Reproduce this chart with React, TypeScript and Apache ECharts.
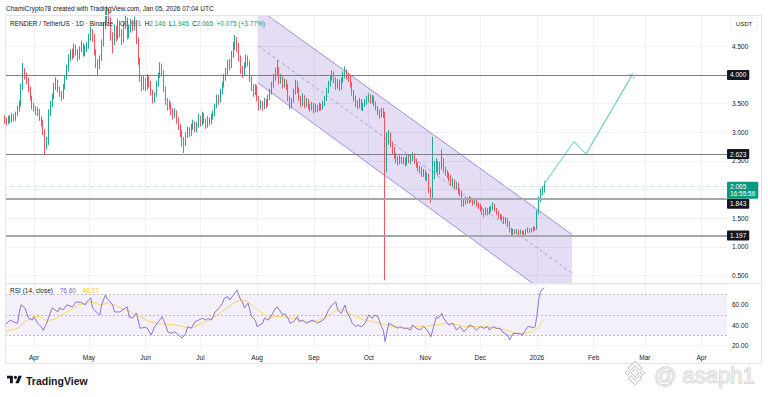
import React, { useEffect, useRef } from "react";
import * as echarts from "echarts";

const DAY = 86400000;
const START = Date.UTC(2025, 2, 16); // first candle: Mar 16, 2025
const X_MIN = Date.UTC(2025, 3, 1) - 15.86 * DAY;
const X_MAX = Date.UTC(2025, 3, 1) + 378.9 * DAY;
const dayToTime = (d: number) => START + d * DAY;

const firstOpen = 3.26;
const closes = [
  3.22,3.18,3.25,3.20,3.28,3.24,3.32,3.40,3.48,3.78,
  4.05,4.00,3.90,3.76,3.60,3.47,3.42,3.35,3.38,3.25,
  3.18,3.02,2.78,2.82,3.35,3.48,3.62,3.80,3.88,3.75,
  3.68,3.60,3.78,3.95,4.10,4.30,4.38,4.34,4.48,4.40,
  4.30,4.45,4.52,4.38,4.46,4.50,4.65,4.75,4.68,4.40,
  4.22,4.15,4.28,4.55,4.85,5.00,5.08,4.95,4.70,4.58,
  4.80,4.65,4.90,4.75,4.60,4.85,4.95,4.70,4.80,4.90,
  4.84,4.92,4.60,4.25,3.95,3.80,3.90,3.78,3.95,3.85,
  3.70,3.56,3.65,3.85,3.98,4.15,4.05,3.75,3.55,3.45,
  3.48,3.38,3.30,3.35,3.22,3.10,3.00,2.88,2.80,2.95,
  3.05,2.98,3.10,3.15,3.05,3.12,3.25,3.15,3.30,3.20,
  3.12,3.22,3.18,3.28,3.32,3.45,3.60,3.55,3.70,3.82,
  3.95,4.05,4.20,4.15,4.35,4.50,4.58,4.52,4.30,4.10,
  4.03,4.15,4.30,4.22,3.95,3.80,3.70,3.78,3.60,3.45,
  3.50,3.42,3.55,3.48,3.60,3.70,3.82,3.95,4.05,4.10,
  3.90,3.95,3.82,3.88,3.80,3.60,3.45,3.55,3.70,3.85,
  3.75,3.60,3.50,3.62,3.48,3.55,3.45,3.42,3.48,3.38,
  3.45,3.40,3.47,3.43,3.50,3.58,3.72,3.85,3.95,4.02,
  3.92,3.80,3.88,3.78,3.90,4.00,4.05,3.98,3.95,3.85,
  3.70,3.60,3.50,3.45,3.55,3.42,3.48,3.52,3.58,3.62,
  3.55,3.60,3.50,3.42,3.35,3.30,3.38,3.30,2.40,2.85,
  2.95,2.80,2.70,2.60,2.52,2.48,2.55,2.50,2.52,2.45,
  2.58,2.50,2.55,2.60,2.50,2.45,2.38,2.35,2.28,2.30,
  2.22,2.25,2.00,1.88,2.25,2.35,2.45,2.30,2.40,2.50,
  2.35,2.30,2.25,2.20,2.12,2.15,2.05,2.10,1.98,1.95,
  1.75,1.78,1.82,1.80,1.85,1.82,1.78,1.80,1.75,1.72,
  1.68,1.62,1.58,1.65,1.60,1.65,1.68,1.72,1.66,1.60,
  1.55,1.52,1.50,1.45,1.48,1.42,1.30,1.22,1.28,1.26,
  1.28,1.24,1.27,1.25,1.23,1.28,1.30,1.27,1.30,1.33,
  1.31,1.60,1.82,1.95,1.991,2.065,
];
const lows = [
  3.15,3.12,3.14,3.16,3.17,3.19,3.20,3.29,3.36,3.45,
  3.74,3.92,3.84,3.70,3.55,3.40,3.36,3.30,3.28,3.20,
  3.10,2.95,2.60,2.70,2.78,3.28,3.44,3.58,3.74,3.70,
  3.62,3.55,3.58,3.75,3.92,4.06,4.24,4.27,4.30,4.34,
  4.24,4.27,4.40,4.32,4.33,4.40,4.46,4.60,4.58,4.34,
  4.12,4.00,4.10,4.25,4.50,4.80,4.92,4.88,4.60,4.38,
  4.52,4.58,4.62,4.66,4.52,4.56,4.80,4.62,4.64,4.74,
  4.76,4.78,4.54,4.18,3.88,3.72,3.74,3.72,3.74,3.78,
  3.64,3.50,3.52,3.62,3.80,3.95,3.98,3.70,3.48,3.38,
  3.40,3.30,3.22,3.25,3.15,3.04,2.92,2.75,2.64,2.76,
  2.90,2.92,2.94,3.04,3.00,3.00,3.08,3.10,3.12,3.15,
  3.06,3.08,3.12,3.14,3.22,3.28,3.42,3.48,3.52,3.66,
  3.78,3.90,4.00,4.08,4.12,4.30,4.44,4.40,4.24,4.02,
  3.95,4.00,4.12,4.15,3.88,3.72,3.62,3.65,3.54,3.38,
  3.40,3.37,3.40,3.42,3.45,3.56,3.66,3.78,3.90,3.98,
  3.84,3.85,3.76,3.78,3.74,3.54,3.40,3.42,3.52,3.66,
  3.68,3.55,3.44,3.46,3.42,3.44,3.40,3.36,3.38,3.33,
  3.35,3.35,3.37,3.38,3.40,3.46,3.55,3.68,3.80,3.90,
  3.86,3.74,3.76,3.72,3.74,3.86,3.94,3.92,3.88,3.78,
  3.64,3.54,3.44,3.40,3.42,3.38,3.37,3.44,3.48,3.52,
  3.50,3.50,3.45,3.38,3.30,3.24,3.26,3.25,0.42,2.30,
  2.78,2.74,2.62,2.54,2.46,2.42,2.44,2.45,2.44,2.40,
  2.42,2.46,2.45,2.50,2.45,2.38,2.32,2.28,2.22,2.22,
  2.16,2.15,1.94,1.77,1.85,2.18,2.30,2.24,2.26,2.35,
  2.30,2.24,2.20,2.14,2.06,2.05,2.00,2.00,1.92,1.88,
  1.70,1.70,1.74,1.75,1.76,1.78,1.72,1.74,1.70,1.66,
  1.62,1.56,1.52,1.55,1.55,1.56,1.60,1.64,1.62,1.56,
  1.50,1.47,1.45,1.40,1.40,1.36,1.25,1.197,1.20,1.22,
  1.23,1.21,1.22,1.21,1.20,1.21,1.25,1.24,1.25,1.27,
  1.28,1.30,1.57,1.78,1.90,1.945,
];
const highs = [
  3.30,3.26,3.29,3.30,3.33,3.32,3.36,3.46,3.55,3.85,
  4.21,4.12,4.04,3.95,3.80,3.64,3.52,3.46,3.44,3.41,
  3.28,3.22,3.05,2.92,3.40,3.55,3.68,3.86,3.96,3.92,
  3.80,3.72,3.84,4.00,4.18,4.36,4.45,4.46,4.55,4.53,
  4.45,4.50,4.60,4.56,4.52,4.58,4.72,4.84,4.80,4.72,
  4.45,4.28,4.34,4.62,4.92,5.12,5.20,5.15,5.00,4.75,
  4.88,4.86,4.98,4.95,4.80,4.92,5.05,5.00,4.88,4.98,
  4.96,5.02,4.96,4.66,4.30,4.00,3.98,3.95,4.02,3.99,
  3.90,3.74,3.70,3.90,4.04,4.22,4.20,4.08,3.80,3.60,
  3.56,3.52,3.42,3.42,3.38,3.26,3.14,3.04,2.92,3.00,
  3.10,3.09,3.15,3.22,3.19,3.18,3.32,3.29,3.36,3.34,
  3.24,3.28,3.26,3.33,3.38,3.50,3.66,3.65,3.76,3.88,
  4.02,4.12,4.26,4.28,4.42,4.58,4.70,4.66,4.56,4.34,
  4.16,4.22,4.36,4.34,4.25,3.98,3.84,3.84,3.82,3.64,
  3.56,3.54,3.60,3.58,3.66,3.76,3.88,4.02,4.12,4.26,
  4.14,4.02,3.98,3.94,3.92,3.84,3.64,3.60,3.76,3.92,
  3.90,3.78,3.64,3.68,3.65,3.60,3.58,3.50,3.53,3.51,
  3.50,3.48,3.52,3.50,3.55,3.63,3.78,3.90,4.00,4.08,
  4.06,3.96,3.93,3.92,3.96,4.06,4.15,4.10,4.04,3.99,
  3.88,3.74,3.64,3.56,3.60,3.58,3.52,3.58,3.64,3.68,
  3.66,3.65,3.64,3.54,3.46,3.40,3.43,3.42,3.35,3.00,
  3.04,3.00,2.84,2.74,2.64,2.58,2.60,2.58,2.57,2.56,
  2.62,2.61,2.60,2.65,2.63,2.54,2.48,2.42,2.40,2.36,
  2.34,2.30,2.28,2.04,2.92,2.50,2.55,2.50,2.48,2.70,
  2.55,2.40,2.34,2.30,2.25,2.20,2.18,2.14,2.12,2.02,
  1.98,1.84,1.88,1.86,1.88,1.87,1.85,1.84,1.83,1.78,
  1.75,1.71,1.66,1.69,1.68,1.70,1.72,1.78,1.75,1.68,
  1.63,1.58,1.56,1.53,1.52,1.50,1.45,1.33,1.32,1.31,
  1.31,1.30,1.30,1.29,1.28,1.31,1.34,1.32,1.33,1.36,
  1.35,1.64,1.88,2.02,2.06,2.146,
];

// RSI (14, close): [day index, value]
const rsi = [
  [0,40],[3,45],[5,43],[7,42],[8,53],[9,60],[11,57],[13,47],[15,45],[16,48],[18,42],[20,38.5],[21,35],
  [23,42],[24,48],[26,57],[29,53],[30,57],[32,55],[34,60],[37,58],[39,63],[42,62],[44,60],[45,63],
  [47,67],[48,57],[50,53],[52,50],[53,60],[55,69.6],[56,66],[59,60],[60,53],[63,53],[66,57],[67,58],
  [68,48],[70,47],[72,52],[74,37],[77,38],[78,37],[80,30.4],[82,38.6],[84,43.5],[86,48.3],[88,40],
  [89,33.6],[91,32],[93,33.6],[95,30.4],[97,27.4],[99,32],[100,38.6],[102,37],[104,43.5],[106,45],
  [108,46.7],[110,45],[111,46.7],[113,45],[115,53],[117,56.5],[119,61.4],[120,66.3],[122,68],
  [123,64.7],[125,69.6],[127,74.5],[129,64.7],[130,63],[131,57],[133,61.8],[135,48.3],[137,45],
  [138,38.6],[141,42],[142,47],[144,45],[146,50],[148,56.5],[149,58],[152,50],[153,51.6],[155,46.7],
  [156,41.8],[158,43.5],[160,48.4],[161,43.5],[163,45],[165,41.8],[168,45],[170,43.5],[171,42],
  [174,45],[175,46.7],[177,55],[179,59.8],[181,63],[182,55],[184,51.6],[186,59.8],[187,53],
  [189,46.7],[190,41.8],[192,38.6],[193,40.2],[195,38.6],[197,42],[199,50],[201,46.7],[202,50],
  [204,48.4],[206,38.6],[207,35],[208,23.8],[209,33.6],[210,42],[212,40],[215,37],[216,38.6],
  [218,37],[220,37],[222,35.3],[223,40.2],[225,37],[227,35.3],[229,38.6],[231,35.3],[233,28.7],
  [234,35.3],[236,48.4],[237,46.7],[239,51.6],[240,46.7],[242,42],[243,40.2],[245,42],[247,35.3],
  [249,38.6],[251,33.6],[253,37],[254,40.2],[256,38.6],[258,35.3],[260,38.6],[262,37],[264,38.6],
  [265,35.3],[267,38.6],[269,37],[271,37],[272,33.6],[275,30.4],[276,25.5],[278,32],[280,32],
  [282,31.3],[283,30.4],[286,38.6],[287,38.6],[289,37.6],[290,38.6],[291,50],[292,66],[293,73],
  [294,75.5],[295,76.6],
];
const rsiMa = [
  [0,33.6],[7,37],[11,43.5],[16,48.4],[19,48.4],[22,45],[25,45],[28,46.5],[31,50],[36,55],[40,59.8],
  [44,61.4],[48,63],[52,59.8],[56,61.4],[60,59.8],[64,56.5],[69,53],[74,48.4],[79,43.5],[83,41.8],
  [88,41],[93,40.2],[98,38.6],[100,37],[104,38.6],[110,43.5],[115,48.4],[120,55],[125,61.4],
  [129,64.7],[133,63],[137,56.5],[141,51.6],[145,46.7],[147,48.4],[152,48.4],[158,46.7],[163,43.5],
  [169,43.5],[174,46.7],[179,51.6],[183,56.5],[187,53],[192,48.4],[197,45],[202,43.5],[208,40.2],
  [213,38.6],[219,37],[224,38.6],[230,38.6],[235,40.2],[241,41.8],[246,41],[252,38.6],[257,38.6],
  [263,38.6],[268,37],[274,35.3],[279,32],[284,32],[288,33.6],[291,37],[292,38.6],[293,41],
  [294,44],[295,46.27],
];

const levels = [4.0, 2.623, 1.843, 1.197];
const levelLabels = ["4.000", "2.623", "1.843", "1.197"];
const lastPrice = 2.065;
const rsiLast = 76.6;
const rsiMaLast = 46.27;
const priceGridValues = [0.5, 1, 1.5, 2, 2.5, 3, 3.5, 4, 4.5];
const priceTickLabels = [0.5, 1, 1.5, 2.5, 3, 3.5, 4.5]; // 2.000 and 4.000 sit under value boxes
const rsiGridValues = [20, 40, 60, 80];
const rsiTickLabels = [20, 40, 60];
const rsiBands = [70, 50, 30];
const monthLabels = ["Apr","May","Jun","Jul","Aug","Sep","Oct","Nov","Dec","2026","Feb","Mar","Apr"];
const monthStarts = monthLabels.map((_, i) => Date.UTC(2025, 3 + i, 1));

const forecastDays = [295, 311.2, 317.8, 343];
const forecastPrices = [2.1, 2.84, 2.62, 4.0];
const channelDays = [138.5, 310.2];
const channelUpper = [5.16, 1.215];
const channelLower = [3.86, -0.136];

const FONT = "'Liberation Sans', Arial, sans-serif";
const TV_PATH = "M14 22H7V11H0V4h14v18zM28 22h-8l7.5-18h8L28 22zM20 12a4 4 0 1 0 0-8 4 4 0 0 0 0 8z";
const BNB_PATH =
  "M16 4L23 11L20.5 13.5L16 9L11.5 13.5L9 11ZM16 28L23 21L20.5 18.5L16 23L11.5 18.5L9 21Z" +
  "M16 12L20 16L16 20L12 16ZM6 16L8.5 13.5L11 16L8.5 18.5ZM26 16L23.5 13.5L21 16L23.5 18.5Z";

function box(text: string, bg: string, fg: string, dy = 0) {
  return {
    show: true,
    position: "end",
    distance: 0,
    formatter: text,
    backgroundColor: bg,
    color: fg,
    fontSize: 6.5,
    fontFamily: FONT,
    lineHeight: 7,
    padding: [1.5, 3, 1.5, 3],
    borderRadius: 1,
    offset: [0, dy],
  };
}

function buildOption() {
  const candles = closes.map((c, i) => [
    dayToTime(i),
    i === 0 ? firstOpen : closes[i - 1],
    c,
    lows[i],
    highs[i],
  ]);
  const t0 = dayToTime(channelDays[0]);
  const t1 = dayToTime(channelDays[1]);

  return {
    animation: false,
    backgroundColor: "#ffffff",
    grid: [
      { left: 5, right: 41, top: 15, height: 268 },
      { left: 5, right: 41, top: 284, height: 66 },
    ],
    xAxis: [
      { gridIndex: 0, type: "value", min: X_MIN, max: X_MAX, show: false },
      {
        gridIndex: 1, type: "value", min: X_MIN, max: X_MAX,
        axisLine: { show: false }, axisTick: { show: false }, splitLine: { show: false },
        axisLabel: {
          customValues: monthStarts,
          formatter: (v: number) => {
            const k = monthStarts.indexOf(v);
            return k >= 0 ? monthLabels[k] : "";
          },
          fontSize: 6.5, color: "#131722", margin: 4, fontFamily: FONT,
        },
      },
    ],
    yAxis: [
      {
        gridIndex: 0, type: "value", position: "right", min: 0.37, max: 5.047,
        axisLine: { show: false }, axisTick: { show: false }, splitLine: { show: false },
        axisLabel: {
          customValues: priceTickLabels,
          formatter: (v: number) => v.toFixed(3),
          fontSize: 6.5, color: "#131722", align: "left", margin: 5, fontFamily: FONT,
        },
      },
      {
        gridIndex: 1, type: "value", position: "right", min: 15.7, max: 80.4,
        axisLine: { show: false }, axisTick: { show: false }, splitLine: { show: false },
        axisLabel: {
          customValues: rsiTickLabels,
          formatter: (v: number) => v.toFixed(2),
          fontSize: 6.5, color: "#131722", align: "left", margin: 5, fontFamily: FONT,
        },
      },
    ],
    series: [
      {
        type: "line", xAxisIndex: 0, yAxisIndex: 0, data: [], silent: true, z: 0,
        markLine: {
          silent: true, z: 0, symbol: ["none", "none"], label: { show: false },
          lineStyle: { color: "#eff1f6", width: 1, type: "solid" },
          data: [
            ...monthStarts.map((t) => ({ xAxis: t })),
            ...priceGridValues.map((p) => ({ yAxis: p })),
          ],
        },
      },
      {
        type: "line", xAxisIndex: 1, yAxisIndex: 1, data: [], silent: true, z: 0,
        markLine: {
          silent: true, z: 0, symbol: ["none", "none"], label: { show: false },
          lineStyle: { color: "#eff1f6", width: 1, type: "solid" },
          data: [
            ...monthStarts.map((t) => ({ xAxis: t })),
            ...rsiGridValues.map((p) => ({ yAxis: p })),
          ],
        },
        markArea: {
          silent: true, z: 0,
          itemStyle: { color: "rgba(126,87,194,0.09)" },
          data: [[{ yAxis: rsiBands[2] }, { yAxis: rsiBands[0] }]],
        },
      },
      {
        type: "line", xAxisIndex: 1, yAxisIndex: 1, data: [], silent: true, z: 1,
        markLine: {
          silent: true, z: 1, symbol: ["none", "none"], label: { show: false },
          lineStyle: { color: "#a9a6bf", width: 0.8, type: [2, 2] },
          data: rsiBands.map((b) => ({ yAxis: b })),
        },
      },
      {
        type: "custom", xAxisIndex: 0, yAxisIndex: 0, z: 1, clip: true, silent: true,
        data: [[t0, channelUpper[0]]],
        renderItem: (_p: any, api: any) => {
          const u0 = api.coord([t0, channelUpper[0]]);
          const u1 = api.coord([t1, channelUpper[1]]);
          const l0 = api.coord([t0, channelLower[0]]);
          const l1 = api.coord([t1, channelLower[1]]);
          const m0 = api.coord([t0, (channelUpper[0] + channelLower[0]) / 2]);
          const m1 = api.coord([t1, (channelUpper[1] + channelLower[1]) / 2]);
          const stroke = "#9d8fde";
          return {
            type: "group",
            children: [
              { type: "polygon", shape: { points: [u0, u1, l1, l0] }, style: { fill: "rgba(126,87,194,0.2)" } },
              { type: "line", shape: { x1: u0[0], y1: u0[1], x2: u1[0], y2: u1[1] }, style: { stroke, lineWidth: 1 } },
              { type: "line", shape: { x1: l0[0], y1: l0[1], x2: l1[0], y2: l1[1] }, style: { stroke, lineWidth: 1 } },
              { type: "line", shape: { x1: m0[0], y1: m0[1], x2: m1[0], y2: m1[1] }, style: { stroke, lineWidth: 0.9, lineDash: [3, 3] } },
            ],
          };
        },
      },
      {
        type: "candlestick", xAxisIndex: 0, yAxisIndex: 0, z: 2, barWidth: 1.3,
        data: candles,
        itemStyle: {
          color: "#22ab94", color0: "#f7525f",
          borderColor: "#22ab94", borderColor0: "#f7525f", borderWidth: 1,
        },
        markLine: {
          silent: true, z: 5, symbol: ["none", "none"],
          data: [
            ...levels.map((lv, i) => ({
              yAxis: lv,
              lineStyle: i < 2
                ? { color: "#7d7f87", width: 1.1, type: "solid" }
                : { color: "#a6a8b0", width: 1.8, type: "solid" },
              label: box(levelLabels[i], "#131722", "#ffffff", i === 2 ? 5 : 0),
            })),
            {
              yAxis: lastPrice,
              lineStyle: { color: "#bfe9e1", width: 1, type: [1, 1] },
              label: box(lastPrice.toFixed(3) + "\n16:55:56", "#089981", "#ffffff", 4),
            },
          ],
        },
      },
      {
        type: "line", xAxisIndex: 0, yAxisIndex: 0, z: 3, silent: true,
        data: forecastDays.map((d, i) => [dayToTime(d), forecastPrices[i]]),
        symbol: "none",
        lineStyle: { color: "#7fd5c0", width: 1.1 },
        markLine: {
          silent: true, z: 3, label: { show: false },
          lineStyle: { color: "#7fd5c0", width: 1.1, type: "solid" },
          data: [[
            { coord: [dayToTime(forecastDays[2]), forecastPrices[2]], symbol: "none" },
            {
              coord: [dayToTime(forecastDays[3]), forecastPrices[3]],
              symbol: "path://M0,10 L5,0 L10,10 L8.6,10 L5,2.8 L1.4,10 Z",
              symbolSize: [7, 5],
            },
          ]],
        },
      },
      {
        type: "line", xAxisIndex: 1, yAxisIndex: 1, z: 3, silent: true,
        data: rsiMa.map(([d, v]) => [dayToTime(d), v]),
        symbol: "none",
        lineStyle: { color: "#f9d863", width: 1 },
        markLine: {
          silent: true, z: 6, symbol: ["none", "none"],
          lineStyle: { opacity: 0 },
          data: [{ yAxis: rsiMaLast, label: box(rsiMaLast.toFixed(2), "#fdd835", "#131722", -2.5) }],
        },
      },
      {
        type: "line", xAxisIndex: 1, yAxisIndex: 1, z: 4, silent: true,
        data: rsi.map(([d, v]) => [dayToTime(d), v]),
        symbol: "none",
        lineStyle: { color: "#8c73d6", width: 1 },
        markLine: {
          silent: true, z: 6, symbol: ["none", "none"],
          lineStyle: { opacity: 0 },
          data: [{ yAxis: rsiLast, label: box(rsiLast.toFixed(2), "#7e57c2", "#ffffff", 0) }],
        },
      },
    ],
    graphic: [
      {
        type: "rect", z: 50, silent: true,
        shape: { x: 5.5, y: 15.5, width: 756, height: 348 },
        style: { fill: "none", stroke: "#e3e5ec", lineWidth: 1 },
      },
      {
        type: "line", z: 50, silent: true,
        shape: { x1: 5.5, y1: 283.5, x2: 761.5, y2: 283.5 },
        style: { stroke: "#e3e5ec", lineWidth: 1 },
      },
      {
        type: "text", x: 6, y: 8, z: 60,
        style: {
          text: "ChamiCrypto78 created with TradingView.com, Jan 05, 2026 07:04 UTC",
          fontSize: 6.5, fill: "#131722", fontFamily: FONT, verticalAlign: "middle",
        },
      },
      {
        type: "text", x: 10, y: 23.5, z: 60,
        style: {
          text: "{a|RENDER / TetherUS · 1D · Binance}  {a|O}{g|1.991} {a|H}{g|2.146} {a|L}{g|1.945} {a|C}{g|2.065} {g|+0.075 (+3.77%)}",
          verticalAlign: "middle", fontFamily: FONT,
          rich: {
            a: { fill: "#131722", fontSize: 6.5, fontFamily: FONT },
            g: { fill: "#089981", fontSize: 6.5, fontFamily: FONT },
          },
        },
      },
      {
        type: "text", x: 744, y: 24, z: 60,
        style: {
          text: "USDT", fontSize: 6, fill: "#131722", fontFamily: FONT,
          align: "center", verticalAlign: "middle",
          backgroundColor: "#ffffff", borderColor: "#e6e8ee", borderWidth: 0.6,
          padding: [3, 5], borderRadius: 2,
        },
      },
      {
        type: "text", x: 10, y: 290.5, z: 60,
        style: {
          text: "{a|RSI (14, close)}  {p|76.60}  {y|46.27}",
          verticalAlign: "middle", fontFamily: FONT,
          rich: {
            a: { fill: "#131722", fontSize: 6.5, fontFamily: FONT },
            p: { fill: "#7e57c2", fontSize: 6.5, fontFamily: FONT },
            y: { fill: "#f5c518", fontSize: 6.5, fontFamily: FONT },
          },
        },
      },
      {
        type: "tvlogo", x: 7, y: 374, scaleX: 0.42, scaleY: 0.42, z: 60,
        style: { fill: "#131722" },
      },
      {
        type: "text", x: 26, y: 380.5, z: 60,
        style: {
          text: "TradingView", fontSize: 10.5, fontWeight: "bold", fill: "#131722",
          fontFamily: FONT, verticalAlign: "middle",
        },
      },
      {
        type: "bnblogo", x: 619, y: 357, scaleX: 1, scaleY: 1, z: 60,
        style: { fill: "#f4f4f4", stroke: "#c9c9c9", lineWidth: 1 },
      },
      {
        type: "text", x: 654, y: 375, z: 60,
        style: {
          text: "@ asaph1", fontSize: 22, fill: "#ececec", stroke: "#bdbdbd", lineWidth: 0.8,
          fontFamily: FONT, verticalAlign: "middle",
        },
      },
    ],
  };
}

export default function App() {
  const ref = useRef<HTMLDivElement>(null);
  useEffect(() => {
    echarts.graphic.registerShape("tvlogo", echarts.graphic.extendPath(TV_PATH, {}) as any);
    echarts.graphic.registerShape("bnblogo", echarts.graphic.extendPath(BNB_PATH, {}) as any);
    const chart = echarts.init(ref.current as HTMLDivElement, null, { renderer: "svg" });
    chart.setOption(buildOption() as any);
    return () => chart.dispose();
  }, []);
  return (
    <div
      ref={ref}
      style={{ position: "fixed", left: 0, top: 0, width: 768, height: 397, background: "#fff" }}
    />
  );
}
